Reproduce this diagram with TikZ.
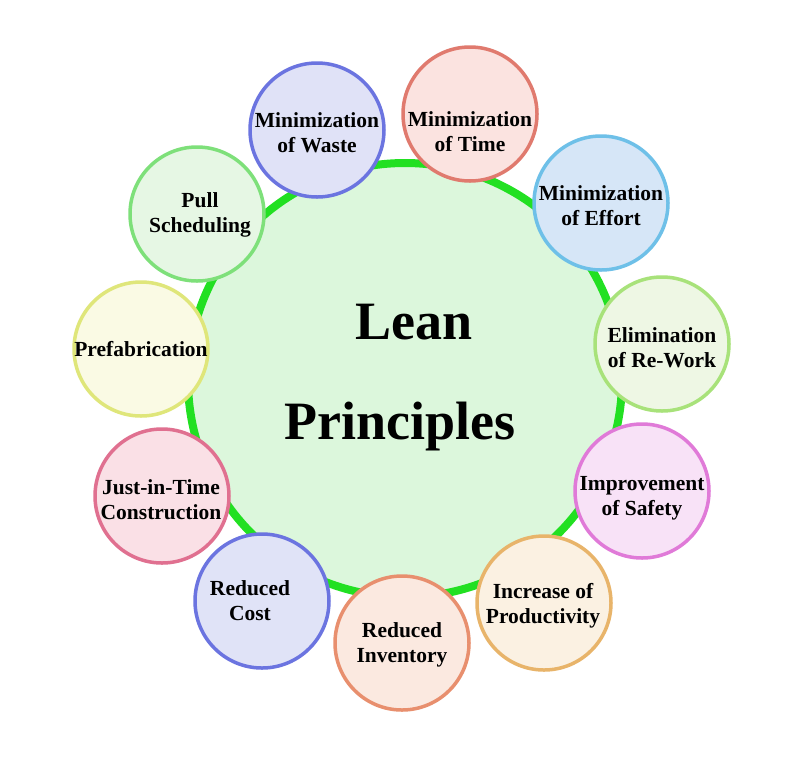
\documentclass[tikz,border=0pt]{standalone}
\usepackage{fontspec}
\setmainfont{Liberation Serif}
\begin{document}
\begin{tikzpicture}[x=1pt,y=-1pt,
  bub/.style={circle,draw=#1!100,line width=3.5pt,minimum size=134pt,inner sep=0pt},
  lbl/.style={align=center,font=\bfseries\fontsize{21.5}{25}\selectfont,text=black},
  hub/.style={circle,draw=ringgreen,fill=hubfill,line width=8pt,minimum size=434pt,inner sep=0pt}]
\definecolor{ringgreen}{HTML}{22E022}
\definecolor{hubfill}{HTML}{DCF7DC}
\definecolor{cWasteB}{HTML}{6B74E0}\definecolor{cWasteF}{HTML}{E0E2F7}
\definecolor{cTimeB}{HTML}{E07A6E}\definecolor{cTimeF}{HTML}{FBE3E0}
\definecolor{cEffB}{HTML}{6EC0E8}\definecolor{cEffF}{HTML}{D6E6F7}
\definecolor{cRewB}{HTML}{A8E27A}\definecolor{cRewF}{HTML}{EEF7E4}
\definecolor{cSafB}{HTML}{E07AD8}\definecolor{cSafF}{HTML}{F8E2F7}
\definecolor{cProB}{HTML}{E8B46A}\definecolor{cProF}{HTML}{FBF1E2}
\definecolor{cInvB}{HTML}{E88F6E}\definecolor{cInvF}{HTML}{FBE9E0}
\definecolor{cCostB}{HTML}{6B74E0}\definecolor{cCostF}{HTML}{E0E3F7}
\definecolor{cJitB}{HTML}{E07090}\definecolor{cJitF}{HTML}{FAE0E6}
\definecolor{cPreB}{HTML}{DFE67A}\definecolor{cPreF}{HTML}{FAFAE4}
\definecolor{cPullB}{HTML}{7EE07A}\definecolor{cPullF}{HTML}{E6F7E4}
\useasboundingbox (0,0) rectangle (800,772);
\fill[white] (0,0) rectangle (800,772);
% hub
\node[hub] (hub) at (405,380) {};
\node[align=center,font=\bfseries\fontsize{54}{60}\selectfont] (lean) at (414,322) {Lean};
\node[align=center,font=\bfseries\fontsize{54}{60}\selectfont] (princ) at (400,427) {Principles};
% bubbles
\node[bub=cWasteB,fill=cWasteF] (waste) at (317,130) {};
\node[bub=cTimeB,fill=cTimeF] (time) at (470,114) {};
\node[bub=cEffB,fill=cEffF] (effort) at (601,203) {};
\node[bub=cRewB,fill=cRewF] (rework) at (662,344) {};
\node[bub=cSafB,fill=cSafF] (safety) at (642,491) {};
\node[bub=cProB,fill=cProF] (prod) at (544,603) {};
\node[bub=cInvB,fill=cInvF] (inv) at (402,643) {};
\node[bub=cCostB,fill=cCostF] (cost) at (262,601) {};
\node[bub=cJitB,fill=cJitF] (jit) at (162,496) {};
\node[bub=cPreB,fill=cPreF] (prefab) at (141,349) {};
\node[bub=cPullB,fill=cPullF] (pull) at (197,214) {};
% labels
\node[lbl] at ([yshift=-3pt]waste.center) {Minimization\\of Waste};
\node[lbl] at ([yshift=-18pt]time.center) {Minimization\\of Time};
\node[lbl] at ([yshift=-3pt]effort.center) {Minimization\\of Effort};
\node[lbl] at ([yshift=-4pt]rework.center) {Elimination\\of Re-Work};
\node[lbl] at ([yshift=-7pt]safety.center) {Improvement\\of Safety};
\node[lbl] at ([xshift=-1pt,yshift=-3pt]prod.center) {Increase of\\Productivity};
\node[lbl] at ([yshift=-2pt]inv.center) {Reduced\\Inventory};
\node[lbl] at ([xshift=-12pt,yshift=0pt]cost.center) {Reduced\\Cost};
\node[lbl] at ([xshift=-1pt,yshift=-4pt]jit.center) {Just-in-Time\\Construction};
\node[lbl] at ([yshift=0pt]prefab.center) {Prefabrication};
\node[lbl] at ([xshift=3pt,yshift=-1pt]pull.center) {Pull\\Scheduling};
\end{tikzpicture}
\end{document}
